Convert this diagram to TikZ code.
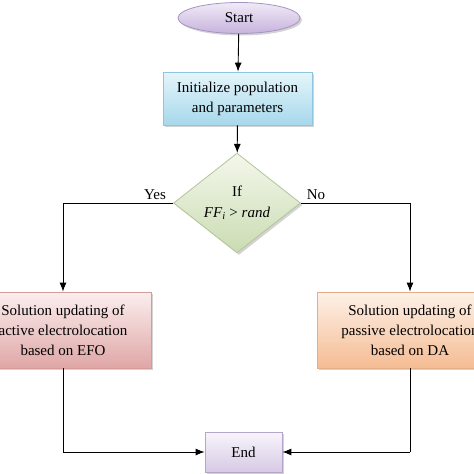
\documentclass[tikz,border=0pt]{standalone}
\usepackage{fontspec}
\setmainfont{Liberation Serif}
\usetikzlibrary{shapes.geometric,arrows.meta,shadows}
\definecolor{stTop}{HTML}{F1EAF7}
\definecolor{stBot}{HTML}{C6B3DC}
\definecolor{stDraw}{HTML}{A593C2}
\definecolor{inTop}{HTML}{E6F5FA}
\definecolor{inBot}{HTML}{A6D8EB}
\definecolor{inDraw}{HTML}{8DC6DE}
\definecolor{dmTop}{HTML}{F4F7EC}
\definecolor{dmBot}{HTML}{CADCB2}
\definecolor{dmDraw}{HTML}{B2C596}
\definecolor{lfTop}{HTML}{FBEEEE}
\definecolor{lfBot}{HTML}{E0A6A6}
\definecolor{lfDraw}{HTML}{D59A9A}
\definecolor{rtTop}{HTML}{FDF1E8}
\definecolor{rtBot}{HTML}{F5BC93}
\definecolor{rtDraw}{HTML}{E6AE88}
\definecolor{enTop}{HTML}{F8F4FB}
\definecolor{enBot}{HTML}{D7CAE5}
\definecolor{enDraw}{HTML}{B5A5CC}
\tikzset{
  shd/.style={drop shadow={shadow xshift=2pt,shadow yshift=-2pt,opacity=0.35,fill=gray}},
  base/.style={font=\fontsize{15}{20}\selectfont,align=center,inner sep=0pt,shd,line width=0.8pt},
  conn/.style={line width=0.9pt,-{Latex[length=9pt,width=7pt]}},
  plain/.style={line width=0.9pt},
  lbl/.style={font=\fontsize{15}{18}\selectfont,inner sep=0pt}
}
\begin{document}
\begin{tikzpicture}[x=1pt,y=-1pt]
\useasboundingbox (0,0) rectangle (474,474);
\clip (0,0) rectangle (474,474);
\node[base,ellipse,minimum width=122pt,minimum height=31pt,top color=stTop,bottom color=stBot,draw=stDraw] (start) at (239,18) {Start};
\node[base,rectangle,minimum width=149pt,minimum height=53pt,top color=inTop,bottom color=inBot,draw=inDraw] (init) at (237.5,98.5) {Initialize population\\and parameters};
\node[base,diamond,minimum width=127pt,minimum height=90pt,top color=dmTop,bottom color=dmBot,draw=dmDraw] (dec) at (237,203) {If\\[1pt]\textit{FF\textsubscript{i}} > \textit{rand}};
\node[base,rectangle,minimum width=176pt,minimum height=76pt,top color=lfTop,bottom color=lfBot,draw=lfDraw] (left) at (63,330) {Solution updating of\\active electrolocation\\based on EFO};
\node[base,rectangle,minimum width=186pt,minimum height=76pt,top color=rtTop,bottom color=rtBot,draw=rtDraw] (right) at (410,330) {Solution updating of\\passive electrolocation\\based on DA};
\node[base,rectangle,minimum width=77pt,minimum height=40pt,top color=enTop,bottom color=enBot,draw=enDraw] (end) at (243.5,452) {End};
\coordinate (lc) at (left.north |- dec.west);
\coordinate (rc) at (right.north |- dec.east);
\coordinate (lb) at (left.south |- end.west);
\coordinate (rb) at (right.south |- end.east);
\draw[conn] (start) -- (init);
\draw[conn] (init) -- (dec);
\draw[plain] (dec.west) -- (lc);
\draw[conn] (lc) -- (left.north);
\draw[plain] (dec.east) -- (rc);
\draw[conn] (rc) -- (right.north);
\draw[plain] (left.south) -- (lb);
\draw[conn] (lb) -- (end.west);
\draw[plain] (right.south) -- (rb);
\draw[conn] (rb) -- (end.east);
\node[lbl] (yes) at (155,195) {Yes};
\node[lbl] (no) at (316,195) {No};
\end{tikzpicture}
\end{document}
